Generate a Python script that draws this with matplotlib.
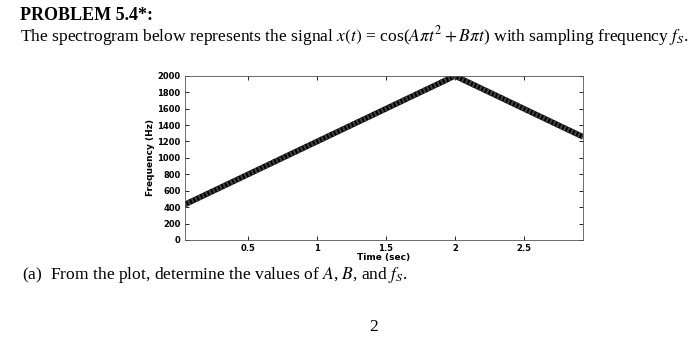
import matplotlib
matplotlib.use("Agg")
import matplotlib.pyplot as plt

# ridge of the spectrogram (time in s, frequency in Hz)
ridge_t = [0.04, 2.0, 2.93]
ridge_f = [432, 2000, 1256]

x_ticks = [0.5, 1, 1.5, 2, 2.5]
x_labels = ["0.5", "1", "1.5", "2", "2.5"]
y_ticks = list(range(0, 2001, 200))

plt.rcParams["mathtext.fontset"] = "stix"
serif = "Liberation Serif"

fig = plt.figure(figsize=(7, 3.63), dpi=100)
ax = fig.add_axes([0.264, 0.339, 0.569, 0.452])

# thick black ridge with a dotted overlay to mimic the spectrogram blobs
ax.plot(ridge_t, ridge_f, color="black", lw=4.0, solid_capstyle="butt")
ax.plot(ridge_t, ridge_f, color="#444444", lw=4.0, ls=(0, (0.35, 0.35)))

ax.set_xlim(0.04, 2.93)
ax.set_ylim(0, 2000)
ax.set_xticks(x_ticks)
ax.set_xticklabels(x_labels)
ax.set_yticks(y_ticks)
ax.tick_params(direction="in", length=3, width=0.6, top=True, right=True,
               labelsize=6, pad=3)
for lab in ax.get_xticklabels() + ax.get_yticklabels():
    lab.set_fontweight("bold")
for s in ax.spines.values():
    s.set_linewidth(0.6)
    s.set_color("#555555")
ax.set_xlabel("Time (sec)", fontsize=6.5, fontweight="bold", labelpad=0)
ax.set_ylabel("Frequency (Hz)", fontsize=6.5, fontweight="bold", labelpad=2)

fig.text(20 / 700, 1 - 15 / 363, "PROBLEM 5.4*:", family=serif, fontweight="bold",
         fontsize=13, va="center", ha="left")
fig.text(20 / 700, 1 - 36 / 363,
         r"The spectrogram below represents the signal $x(t)$ = cos($A\pi t^2 + B\pi t$) with sampling frequency $f_S$.",
         family=serif, fontsize=12.6, va="center", ha="left")
fig.text(22 / 700, 1 - 275 / 363,
         r"(a)  From the plot, determine the values of $A$, $B$, and $f_S$.",
         family=serif, fontsize=12.6, va="center", ha="left")
fig.text(374 / 700, 1 - 327 / 363, "2", family=serif, fontsize=12.6,
         va="center", ha="center")

fig.savefig("out.png", dpi=100)
